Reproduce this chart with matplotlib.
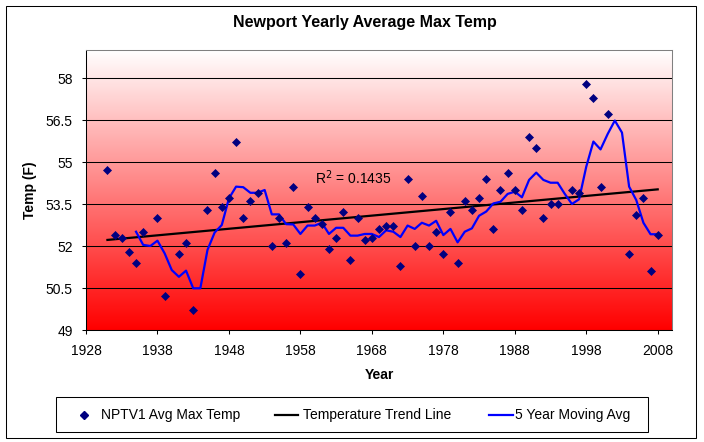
import numpy as np
import matplotlib.pyplot as plt
from matplotlib.colors import LinearSegmentedColormap
from matplotlib.lines import Line2D
from matplotlib.patches import Rectangle

plt.rcParams['font.family'] = ['Liberation Sans', 'DejaVu Sans']

# yearly average max temp (F)
years = [1931, 1932, 1933, 1934, 1935, 1936, 1938, 1939, 1941, 1942,
         1943, 1945, 1946, 1947, 1948, 1949, 1950, 1951, 1952, 1954,
         1955, 1956, 1957, 1958, 1959, 1960, 1961, 1962, 1963, 1964,
         1965, 1966, 1967, 1968, 1969, 1970, 1971, 1972, 1973, 1974,
         1975, 1976, 1977, 1978, 1979, 1980, 1981, 1982, 1983, 1984,
         1985, 1986, 1987, 1988, 1989, 1990, 1991, 1992, 1993, 1994,
         1996, 1997, 1998, 1999, 2000, 2001, 2004, 2005, 2006, 2007,
         2008]
avg_max = [54.7, 52.4, 52.3, 51.8, 51.4, 52.5, 53.0, 50.2, 51.7, 52.1,
           49.7, 53.3, 54.6, 53.4, 53.7, 55.7, 53.0, 53.6, 53.9, 52.0,
           53.0, 52.1, 54.1, 51.0, 53.4, 53.0, 52.8, 51.9, 52.3, 53.2,
           51.5, 53.0, 52.2, 52.3, 52.6, 52.7, 52.7, 51.3, 54.4, 52.0,
           53.8, 52.0, 52.5, 51.7, 53.2, 51.4, 53.6, 53.3, 53.7, 54.4,
           52.6, 54.0, 54.6, 54.0, 53.3, 55.9, 55.5, 53.0, 53.5, 53.5,
           54.0, 53.9, 57.8, 57.3, 54.1, 56.7, 51.7, 53.1, 53.7, 51.1,
           52.4]

# 5 year moving average series
ma_years = list(range(1935, 2009))
ma_vals = [52.51, 52.04, 52.00, 52.19, 51.74, 51.14, 50.90, 51.12, 50.49, 50.49,
           51.86, 52.48, 52.75, 53.70, 54.12, 54.10, 53.90, 53.90, 54.00, 53.13,
           53.13, 52.78, 52.77, 52.43, 52.73, 52.73, 52.83, 52.43, 52.65, 52.65,
           52.37, 52.37, 52.43, 52.43, 52.32, 52.56, 52.51, 52.32, 52.73, 52.61,
           52.83, 52.73, 52.90, 52.39, 52.61, 52.13, 52.51, 52.63, 53.08, 53.23,
           53.52, 53.58, 53.86, 53.94, 53.74, 54.36, 54.62, 54.36, 54.26, 54.26,
           53.86, 53.50, 53.67, 54.83, 55.73, 55.45, 56.00, 56.48, 56.05, 54.12,
           53.64, 52.83, 52.42, 52.42]

W, H = 704, 442
fig = plt.figure(figsize=(W / 100, H / 100), dpi=100)
ax = fig.add_axes([86 / W, 112 / H, 586 / W, 280 / H])

# white -> red background
cmap = LinearSegmentedColormap.from_list('wr', ['#ff0000', '#ffffff'])
grad = np.linspace(0, 1, 256).reshape(-1, 1)
ax.imshow(grad, cmap=cmap, aspect='auto', extent=(0, 1, 0, 1),
          transform=ax.transAxes, origin='lower', zorder=0)

yticks = np.arange(49, 59.1, 1.5)
for y in yticks:
    ax.axhline(y, color='black', lw=0.75, zorder=1)

# linear trend
coef = np.polyfit(years, avg_max, 1)
tx = np.array([years[0], years[-1]])
ax.plot(tx, np.polyval(coef, tx), color='black', lw=1.6, zorder=3)

ax.plot(ma_years, ma_vals, color='#0000ff', lw=1.6, zorder=3)
ax.plot(years, avg_max, linestyle='none', marker='D', ms=4.0,
        color='#000080', mec='#000080', mew=0.5, zorder=4)

ax.text(1960, 54.44, 'R$^2$ = 0.1435', fontsize=10, ha='left', va='center', zorder=5)

ax.set_xlim(1928, 2010)
ax.set_ylim(49, 59)
ax.set_xticks(np.arange(1928, 2009, 10))
ax.set_yticks(yticks)
ax.set_yticklabels([f'{v:g}' for v in yticks])
ax.tick_params(direction='out', length=3, width=0.75, labelsize=10, color='black')
ax.tick_params(axis='y', pad=6.5)
ax.tick_params(axis='x', pad=7)

for s in ['top', 'right']:
    ax.spines[s].set_color('#808080')
    ax.spines[s].set_linewidth(0.75)
for s in ['left', 'bottom']:
    ax.spines[s].set_color('black')
    ax.spines[s].set_linewidth(0.75)

fig.text(364.7 / W, 1 - 22 / H, 'Newport Yearly Average Max Temp',
         fontsize=11.5, fontweight='bold', ha='center', va='center')
fig.text(30 / W, 1 - 190 / H, 'Temp (F)', fontsize=10, fontweight='bold',
         rotation=90, ha='center', va='center')
fig.text(379 / W, 1 - 375 / H, 'Year', fontsize=10, fontweight='bold',
         ha='center', va='center')

# outer chart border
fig.add_artist(Rectangle((5.5 / W, 4.5 / H), 690.5 / W, 432 / H, fill=False,
                         ec='black', lw=0.75, transform=fig.transFigure))

# legend box drawn by hand
ly = 1 - 414.5 / H
fig.add_artist(Rectangle((56 / W, 1 - 432 / H), 592 / W, 35 / H, fill=False,
                         ec='black', lw=0.75, transform=fig.transFigure))
fig.add_artist(Line2D([84 / W], [ly], marker='D', ms=4.0, color='#000080',
                      transform=fig.transFigure))
fig.text(101 / W, ly, 'NPTV1 Avg Max Temp', fontsize=10, va='center')
fig.add_artist(Line2D([275 / W, 298 / W], [ly, ly], color='black', lw=1.6,
                      transform=fig.transFigure))
fig.text(303 / W, ly, 'Temperature Trend Line', fontsize=10, va='center')
fig.add_artist(Line2D([489 / W, 513 / W], [ly, ly], color='#0000ff', lw=1.6,
                      transform=fig.transFigure))
fig.text(515 / W, ly, '5 Year Moving Avg', fontsize=10, va='center')

fig.savefig('out.png', dpi=100)
